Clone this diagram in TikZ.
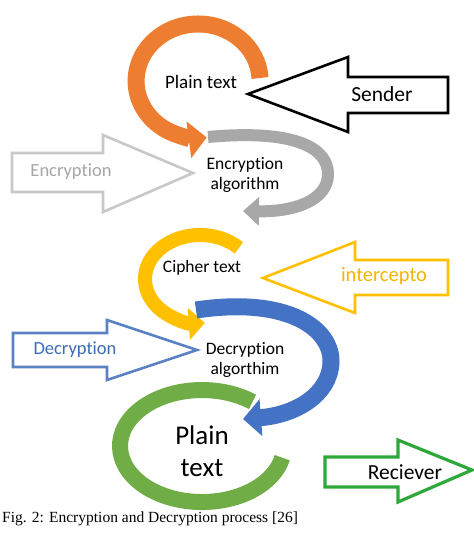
\documentclass[tikz,border=0pt]{standalone}
\usepackage{fontspec}
\setmainfont{Carlito}[Ligatures=NoCommon]
\newfontfamily\capfont{Liberation Serif}
\usetikzlibrary{arrows.meta}
\definecolor{cOrange}{HTML}{ED7D31}
\definecolor{cGray}{HTML}{A8A8A8}
\definecolor{cGrayLine}{HTML}{C8C8C8}
\definecolor{cGrayText}{HTML}{A6A6A6}
\definecolor{cYellow}{HTML}{FFC000}
\definecolor{cYellowText}{HTML}{F2B600}
\definecolor{cBlue}{HTML}{4472C4}
\definecolor{cBlueLine}{HTML}{5B82C2}
\definecolor{cBlueText}{HTML}{3A6DB5}
\definecolor{cGreen}{HTML}{70AD47}
\definecolor{cGreenLine}{HTML}{2EA83A}
\tikzset{
  blockarrow/.style={line width=2.6pt, line join=miter, fill=white},
  band/.style={line cap=butt},
  lbl/.style={inner sep=0pt, align=center},
}
\newcommand{\fs}[1]{\fontsize{#1}{#1}\selectfont}
\begin{document}
\begin{tikzpicture}[x=1pt,y=-1pt]
\useasboundingbox (0,0) rectangle (474,536);
\fill[white] (0,0) rectangle (474,536);

% ---- block arrows ----
\draw[blockarrow, draw=black] (448,77) -- (348,77) -- (348,57) -- (248,94) -- (348,132) -- (348,113) -- (448,113) -- cycle;
\draw[blockarrow, draw=cGrayLine] (12,153) -- (103,153) -- (103,135) -- (193,173) -- (103,212) -- (103,192) -- (12,192) -- cycle;
\draw[blockarrow, draw=cYellow] (448,260) -- (355,260) -- (355,242) -- (263,278) -- (355,313) -- (355,295) -- (448,295) -- cycle;
\draw[blockarrow, draw=cBlueLine] (13,333) -- (107,333) -- (107,320) -- (197,350) -- (107,380) -- (107,367) -- (13,367) -- cycle;
\draw[blockarrow, draw=cGreenLine, line width=3.2pt] (325,457) -- (398,457) -- (398,440) -- (472,470) -- (398,502) -- (398,487) -- (325,487) -- cycle;

% ---- curved bands ----
\draw[band, cOrange, line width=17pt, -{Triangle[length=18pt,width=36pt]}]
  (260,78) arc[start angle=-3, end angle=-278, x radius=62, y radius=57];
\draw[band, cGray, line width=12pt, -{Triangle[length=16pt,width=28pt]}]
  (208,137) .. controls (295,129) and (328,148) .. (328,174)
  .. controls (328,200) and (295,212) .. (243,211);
\draw[band, cYellow, line width=14pt, -{Triangle[length=16pt,width=31pt]}]
  (238.9,247.9) arc[start angle=-45, end angle=-275, x radius=55, y radius=44];
\draw[band, cBlue, line width=17pt, -{Triangle[length=18pt,width=36pt]}]
  (196,310) .. controls (290,296) and (332,330) .. (331,362)
  .. controls (330,395) and (295,415) .. (243,419);
\draw[band, cGreen, line width=16pt]
  (252.5,401.9) arc[start angle=-52, end angle=-348, x radius=82, y radius=56];

% ---- texts ----
\node[lbl, font=\fs{19}] (plain1) at (201,82) {Plain text};
\node[lbl, font=\fs{21.5}] (sender) at (382,94) {Sender};
\node[lbl, font=\fs{18.5}, text=cGrayText] (enc) at (71,172) {Encryption};
\node[lbl, font=\fs{17.5}] (encalg) at (245,175) {Encryption\\[2pt]algorithm};
\node[lbl, font=\fs{17.5}] (cipher) at (202,268) {Cipher text};
\node[lbl, font=\fs{20.5}, text=cYellowText] (inter) at (384,276) {intercepto};
\node[lbl, font=\fs{18.5}, text=cBlueText] (dec) at (75,350) {Decryption};
\node[lbl, font=\fs{17.5}] (decalg) at (245,360) {Decryption\\[2pt]algorthim};
\node[lbl, font=\fs{27}] (plain2) at (202,451) {Plain\\[5pt]text};
\node[lbl, font=\fs{21.5}] (recv) at (405,472) {Reciever};
\node[anchor=base west, inner sep=0pt, font=\capfont\fs{15.5}] (cap) at (2,522) {Fig. 2: Encryption and Decryption process [26]};
\end{tikzpicture}
\end{document}
